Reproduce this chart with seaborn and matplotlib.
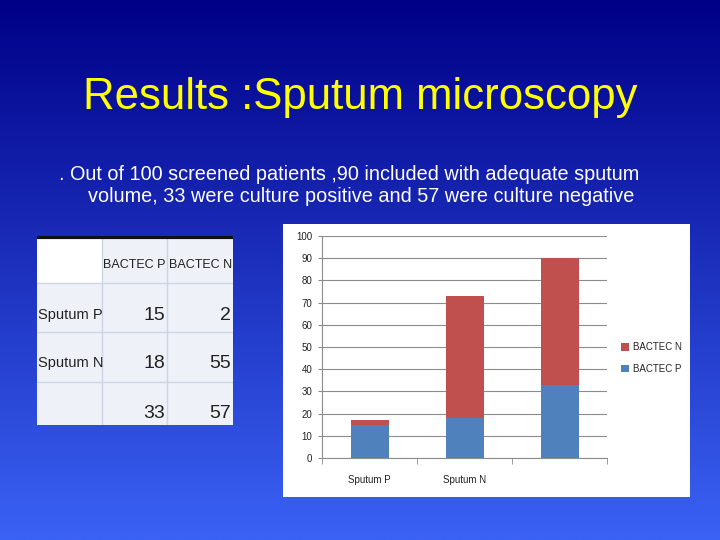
import numpy as np
import pandas as pd
import matplotlib
matplotlib.use("Agg")
import matplotlib.pyplot as plt
import seaborn as sns

# values
categories = ["Sputum P", "Sputum N", " "]
bactec_p = [15, 18, 33]
bactec_n = [2, 55, 57]
series_names = ["BACTEC N", "BACTEC P"]
table_rows = ["Sputum P", "Sputum N", ""]
table_cols = ["BACTEC P", "BACTEC N"]

title = "Results :Sputum microscopy"
line1 = ". Out of 100 screened patients ,90 included with adequate sputum"
line2 = "volume, 33 were culture positive and 57 were culture negative"

sns.set_style("white")
plt.rcParams["font.family"] = ["Liberation Sans", "DejaVu Sans"]

W, H = 720, 540
fig = plt.figure(figsize=(7.2, 5.4), dpi=100)

# slide background - vertical blue gradient
bg = fig.add_axes([0, 0, 1, 1])
top = np.array([0, 0, 135]) / 255
bot = np.array([58, 98, 245]) / 255
t = np.linspace(0, 1, 256)[:, None]
grad = top + (bot - top) * t
bg.imshow(grad[:, None, :].repeat(2, axis=1), aspect="auto", extent=[0, 1, 0, 1], origin="upper")
bg.set_xlim(0, 1)
bg.set_ylim(0, 1)
bg.axis("off")

def fx(px):
    return px / W

def fy(py):
    return 1 - py / H

fig.text(fx(360), fy(97), title, color="#FFFF00", fontsize=31.5, ha="center", va="center")
fig.text(fx(59), fy(175), line1, color="white", fontsize=14.3, ha="left", va="center")
fig.text(fx(88), fy(197), line2, color="white", fontsize=14.3, ha="left", va="center")

# table picture on the left
tx0, ty0, tw, th = 37, 236, 196, 189
tab = fig.add_axes([fx(tx0), fy(ty0 + th), tw / W, th / H])
tab.set_xlim(0, tw)
tab.set_ylim(th, 0)
tab.axis("off")
col_edges = [0, 65, 130, 196]
row_edges = [0, 47, 96, 146, 189]
tab.add_patch(plt.Rectangle((0, 0), tw, th, color="#eef1f7", zorder=0))
tab.add_patch(plt.Rectangle((0, 0), 65, 47, color="white", zorder=0))
for x in col_edges[1:-1]:
    tab.plot([x, x], [0, th], color="#cdd5e3", lw=1)
for y in row_edges[1:-1]:
    tab.plot([0, tw], [y, y], color="#cdd5e3", lw=1)
tab.plot([0, tw], [1, 1], color="#111111", lw=3)
tcol = "#222222"
for j, c in enumerate(table_cols):
    tab.text(col_edges[j + 2] - 1, 29, c, ha="right", va="center", fontsize=9,
             color=tcol)
vals = [[bactec_p[i], bactec_n[i]] for i in range(3)]
row_y = [79, 127, 177]
for i, r in enumerate(table_rows):
    yc = row_y[i]
    tab.text(1, yc, r, ha="left", va="center", fontsize=10.5, color=tcol)
    for j in range(2):
        tab.text(col_edges[j + 2] - 2, yc, str(vals[i][j]), ha="right", va="center",
                 fontsize=14, color=tcol)

# white chart panel
panel = fig.add_axes([fx(283), fy(497), (690 - 283) / W, (497 - 224) / H])
panel.set_facecolor("white")
panel.set_xticks([])
panel.set_yticks([])
for s in panel.spines.values():
    s.set_visible(False)

# stacked bar chart
ax = fig.add_axes([fx(322), fy(458), (607 - 322) / W, (458 - 236) / H])
df = pd.DataFrame({"cat": categories, "p": bactec_p, "n": bactec_n})
df["total"] = df["p"] + df["n"]
red = "#C0504D"
blue = "#4F81BD"
sns.barplot(data=df, x="cat", y="total", color=red, width=0.4, saturation=1,
            errorbar=None, ax=ax, zorder=3, label=series_names[0], linewidth=0)
sns.barplot(data=df, x="cat", y="p", color=blue, width=0.4, saturation=1,
            errorbar=None, ax=ax, zorder=3, label=series_names[1], linewidth=0)
ax.set_xlim(-0.5, 2.5)
ax.set_ylim(0, 100)
ax.set_yticks(range(0, 101, 10))
ax.yaxis.grid(True, color="#8c8c8c", lw=0.8)
ax.set_axisbelow(True)
ax.set_xlabel("")
ax.set_ylabel("")
for s in ["top", "right"]:
    ax.spines[s].set_visible(False)
for s in ["left", "bottom"]:
    ax.spines[s].set_color("#8c8c8c")
ax.tick_params(axis="y", labelsize=7, length=3, color="#8c8c8c", left=True, pad=4)
ax.tick_params(axis="x", labelsize=7, length=0, pad=12)
ax.set_xticks([-0.5, 0.5, 1.5, 2.5], minor=True)
ax.tick_params(axis="x", which="minor", length=4, color="#8c8c8c", bottom=True)
for lab in ax.get_xticklabels() + ax.get_yticklabels():
    lab.set_color("#222222")
ax.legend(loc="center left", bbox_to_anchor=(1.02, 0.45), frameon=False, fontsize=7,
          handlelength=0.8, handleheight=0.8, handletextpad=0.4, labelspacing=1.2)

fig.savefig("out.png", dpi=100)
